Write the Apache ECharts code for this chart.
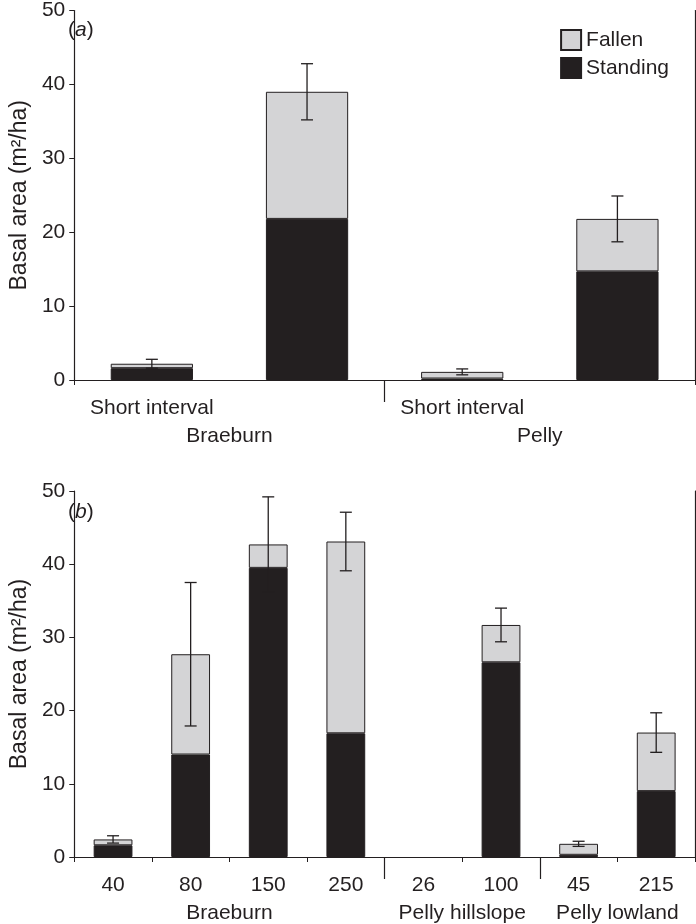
<!DOCTYPE html>
<html>
<head>
<meta charset="UTF-8">
<script src="https://cdn.jsdelivr.net/npm/echarts@6/dist/echarts.min.js"></script>
<style>body{margin:0;background:#fff}#main{width:696px;height:924px}</style>
</head>
<body>
<div id="main"></div>
<script>
// panel (a)
var catsA = ['Short interval', 'Long interval', 'Short interval', 'Long interval'];
var standingA = [1.6, 21.8, 0.2, 14.7];
var fallenA = [0.6, 17.2, 0.9, 7.1];
var errA = [0.6, 3.8, 0.4, 3.1];
// panel (b)
var catsB = ['40', '80', '150', '250', '26', '100', '45', '215'];
var standingB = [1.6, 14.0, 39.5, 16.9, null, 26.6, 0.3, 9.0];
var fallenB = [0.8, 13.7, 3.2, 26.2, null, 5.1, 1.5, 8.0];
var errB = [0.5, 9.8, 6.5, 4.0, 0, 2.3, 0.35, 2.7];
var yTicks = [0, 10, 20, 30, 40, 50];

var FONT = 'Liberation Sans';
var FS = 21;
var BLACK = '#231f20', GREY = '#d4d4d6';

function totals(s, f) { return s.map(function (v, i) { return (v || 0) + (f[i] || 0); }); }

function groupAxis(grid, n, labelAt, tickAt) {
  var data = [];
  for (var i = 0; i <= n; i++) data.push(labelAt.hasOwnProperty(i) ? labelAt[i] : '');
  return {
    type: 'category', gridIndex: grid, position: 'bottom', boundaryGap: false, data: data,
    axisLine: {show: false},
    axisTick: {show: true, length: 22, lineStyle: {color: BLACK, width: 1.2},
      interval: function (i) { return tickAt.indexOf(i) >= 0; }},
    axisLabel: {show: true, margin: 46, fontFamily: FONT, fontSize: FS, color: BLACK,
      interval: function (i) { return labelAt.hasOwnProperty(i); }}
  };
}

function errSeries(xi, yi, tot, err) {
  return {
    type: 'custom', xAxisIndex: xi, yAxisIndex: yi, z: 10,
    data: tot.map(function (t, i) { return [i, t, err[i]]; }),
    renderItem: function (params, api) {
      var e = api.value(2);
      if (!e) return;
      var top = api.coord([api.value(0), api.value(1) + e]);
      var bot = api.coord([api.value(0), api.value(1) - e]);
      var w = 6;
      var st = {stroke: BLACK, lineWidth: 1.3};
      return {type: 'group', children: [
        {type: 'line', shape: {x1: top[0], y1: top[1], x2: bot[0], y2: bot[1]}, style: st},
        {type: 'line', shape: {x1: top[0] - w, y1: top[1], x2: top[0] + w, y2: top[1]}, style: st},
        {type: 'line', shape: {x1: bot[0] - w, y1: bot[1], x2: bot[0] + w, y2: bot[1]}, style: st}
      ]};
    }
  };
}

function yAxisFor(grid) {
  return [{
    type: 'value', gridIndex: grid, min: 0, max: 50, interval: 10,
    name: 'Basal area (m²/ha)', nameLocation: 'middle', nameGap: 36,
    nameTextStyle: {fontFamily: FONT, fontSize: 23, color: BLACK},
    axisLine: {show: true, lineStyle: {color: BLACK, width: 1.2}},
    axisTick: {show: true, length: 5, lineStyle: {color: BLACK}},
    axisLabel: {fontFamily: FONT, fontSize: FS, color: BLACK, margin: 9},
    splitLine: {show: false}
  }, {
    type: 'value', gridIndex: grid, min: 0, max: 50, interval: 10, position: 'right',
    axisLine: {show: true, lineStyle: {color: BLACK, width: 1.2}},
    axisTick: {show: false}, axisLabel: {show: false}, splitLine: {show: false}
  }];
}

function catAxis(grid, cats) {
  return {
    type: 'category', gridIndex: grid, data: cats,
    axisLine: {show: true, onZero: false, lineStyle: {color: BLACK, width: 1.2}},
    axisTick: {show: true, length: 5, lineStyle: {color: BLACK}},
    axisLabel: {fontFamily: FONT, fontSize: FS, color: BLACK, margin: 18}
  };
}

var chart = echarts.init(document.getElementById('main'));
var ya = yAxisFor(0), yb = yAxisFor(1);
var ital = {i: {fontStyle: 'italic', fontFamily: FONT, fontSize: FS, fill: BLACK}};
chart.setOption({
  animation: false,
  textStyle: {fontFamily: FONT},
  grid: [
    {left: 60, right: 1, top: 8, height: 372},
    {left: 60, right: 1, top: 491, height: 368}
  ],
  legend: {
    orient: 'vertical', right: 22, top: 24, itemGap: 6, itemWidth: 20, itemHeight: 20,
    icon: 'rect',
    textStyle: {fontFamily: FONT, fontSize: FS, color: BLACK},
    data: ['Fallen', 'Standing']
  },
  graphic: [
    {type: 'text', left: 68, top: 20, style: {rich: ital, text: '({i|a})', fontFamily: FONT, fontSize: FS, fill: BLACK}},
    {type: 'text', left: 68, top: 502, style: {rich: ital, text: '({i|b})', fontFamily: FONT, fontSize: FS, fill: BLACK}}
  ],
  xAxis: [
    catAxis(0, catsA),
    groupAxis(0, 8, {2: 'Braeburn', 6: 'Pelly'}, [4]),
    catAxis(1, catsB),
    groupAxis(1, 16, {4: 'Braeburn', 10: 'Pelly hillslope', 14: 'Pelly lowland'}, [8, 12])
  ],
  yAxis: [ya[0], ya[1], yb[0], yb[1]],
  series: [
    {name: 'Standing', type: 'bar', stack: 'a', xAxisIndex: 0, yAxisIndex: 0, barWidth: '53%', data: standingA,
      itemStyle: {color: BLACK, borderColor: BLACK, borderWidth: 1}},
    {name: 'Fallen', type: 'bar', stack: 'a', xAxisIndex: 0, yAxisIndex: 0, data: fallenA,
      itemStyle: {color: GREY, borderColor: BLACK, borderWidth: 1}},
    errSeries(0, 0, totals(standingA, fallenA), errA),
    {name: 'Standing', type: 'bar', stack: 'b', xAxisIndex: 2, yAxisIndex: 2, barWidth: '50%', data: standingB,
      itemStyle: {color: BLACK, borderColor: BLACK, borderWidth: 1}},
    {name: 'Fallen', type: 'bar', stack: 'b', xAxisIndex: 2, yAxisIndex: 2, data: fallenB,
      itemStyle: {color: GREY, borderColor: BLACK, borderWidth: 1}},
    errSeries(2, 2, totals(standingB, fallenB), errB)
  ]
});
</script>
</body>
</html>
